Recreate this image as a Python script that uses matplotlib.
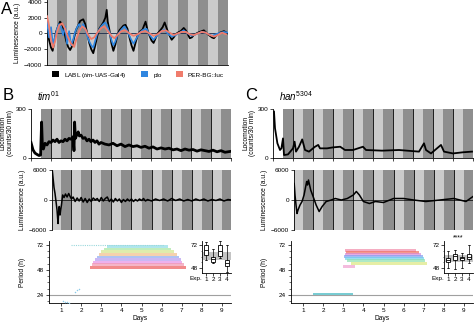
import matplotlib
matplotlib.use("Agg")
import matplotlib.pyplot as plt
from matplotlib.patches import Patch

plt.rcParams['font.family'] = ['Liberation Sans', 'DejaVu Sans']
plt.rcParams['mathtext.fontset'] = 'custom'
plt.rcParams['mathtext.rm'] = 'Liberation Sans'
plt.rcParams['mathtext.it'] = 'Liberation Sans:italic'
plt.rcParams['font.size'] = 4.6
plt.rcParams['axes.linewidth'] = 0.6
plt.rcParams['xtick.major.width'] = 0.5
plt.rcParams['ytick.major.width'] = 0.5
plt.rcParams['xtick.major.size'] = 2
plt.rcParams['ytick.major.size'] = 2
plt.rcParams['xtick.major.pad'] = 1.5
plt.rcParams['ytick.major.pad'] = 1.5

# ---------------- data (days, values) ----------------
# panel A: luminescence of three lines
a_labl_t = [0.5, 0.6, 0.7, 0.78, 0.85, 0.95, 1.05, 1.15, 1.25, 1.35, 1.45, 1.55, 1.65, 1.75, 1.85,
            1.95, 2.05, 2.15, 2.3, 2.4, 2.5, 2.6, 2.7, 2.8, 2.9, 3.0, 3.1, 3.2, 3.3, 3.4, 3.47, 3.52,
            3.6, 3.7, 3.8, 3.9, 4.0, 4.1, 4.2, 4.3, 4.4, 4.5, 4.6, 4.7, 4.8, 4.9, 5.0, 5.1, 5.25,
            5.4, 5.5, 5.6, 5.7, 5.8, 5.9, 6.0, 6.1, 6.25, 6.35, 6.5, 6.6, 6.7, 6.8, 6.9, 7.0, 7.15,
            7.3, 7.4, 7.5, 7.6, 7.7, 7.8, 8.0, 8.2, 8.3, 8.5, 8.7, 8.8, 8.9, 9.1, 9.3, 9.5]
a_labl_v = [500, -800, -1800, -2200, -1200, 200, 900, 1500, 1200, 300, -900, -1700, -2100, -1600, -500,
            500, 1000, 1600, 1800, 1200, 0, -1200, -2000, -2500, -1500, -300, 600, 1000, 1400, 2000, 3000, 1500,
            500, -1200, -2200, -1400, -200, 400, 700, 1000, 1100, 600, -500, -1500, -2200, -1200, -300, 200, 500,
            1500, 400, -300, -900, -1200, -600, 0, 300, 800, 1400, 300, -300, -800, -500, -100, 100, 300,
            700, 400, -100, -600, -500, -200, 100, 300, 400, -100, -500, -600, -300, 100, 300, 0]
a_plo_t = [0.5, 0.6, 0.7, 0.8, 0.9, 1.0, 1.1, 1.2, 1.3, 1.4, 1.5, 1.6, 1.7, 1.8, 1.9, 2.0, 2.1, 2.2, 2.3,
           2.4, 2.5, 2.6, 2.7, 2.8, 2.9, 3.0, 3.1, 3.2, 3.3, 3.4, 3.5, 3.6, 3.7, 3.8, 3.9, 4.0, 4.2, 4.35,
           4.5, 4.65, 4.8, 4.95, 5.1, 5.3, 5.45, 5.6, 5.8, 6.0, 6.2, 6.35, 6.5, 6.7, 6.9, 7.1, 7.3, 7.5,
           7.7, 7.9, 8.2, 8.4, 8.7, 9.0, 9.3, 9.5]
a_plo_v = [1500, -500, 800, -1500, -400, 600, 1200, 800, -200, 900, -1300, 300, -1500, -800, 200, 800, 1200,
           600, 1200, 600, -300, -1000, -1500, -1800, -900, 0, 500, 900, 1200, 1400, 900, 200, -800, -1500,
           -1000, -200, 500, 900, 300, -600, -1300, -600, 100, 500, 600, -200, -800, -200, 300, 500, 0,
           -400, -200, 100, 400, 0, -300, -100, 200, 100, -300, 0, 200, 100]
a_per_t = [0.5, 0.6, 0.7, 0.8, 0.9, 1.0, 1.1, 1.25, 1.4, 1.55, 1.7, 1.85, 1.95, 2.1, 2.25, 2.4, 2.55, 2.7,
           2.85, 3.0, 3.2, 3.35, 3.5, 3.7, 3.85, 4.0, 4.2, 4.4, 4.6, 4.8, 5.0, 5.2, 5.4, 5.6, 5.8, 6.0,
           6.2, 6.4, 6.6, 6.8, 7.0, 7.2, 7.4, 7.6, 7.8, 8.0, 8.2, 8.4, 8.6, 8.8, 9.0, 9.2, 9.4]
a_per_v = [2200, 1000, -800, -1800, -1000, 200, 1000, 1300, 600, -500, -1300, -1700, -800, 300, 900, 600,
           -200, -700, -500, 100, 700, 900, 400, -300, -600, -200, 300, 400, 0, -300, -100, 200, 300, 0,
           -300, -100, 300, 400, 100, -200, 0, 200, 200, -100, -200, 0, 200, 100, -200, -400, -200, 100, -100]
legend_labels = ['LABL ($\\mathit{tim}$-UAS-Gal4)', 'plo', 'PER-BG::luc']

# panel B (tim01) locomotion and luminescence
b_loc_t = [-0.5, -0.4, -0.3, -0.2, -0.1, -0.02, 0.03, 0.07, 0.12, 0.2, 0.3, 0.4, 0.5, 0.6, 0.7, 0.8, 0.9,
           1.0, 1.1, 1.2, 1.3, 1.4, 1.5, 1.6, 1.65, 1.68, 1.72, 1.8, 1.86, 1.92, 2.0, 2.1, 2.2, 2.3, 2.4,
           2.5, 2.6, 2.7, 2.8, 2.9, 3.0, 3.2, 3.4, 3.6, 3.8, 4.0, 4.2, 4.4, 4.6, 4.8, 5.0, 5.2, 5.4, 5.6,
           5.8, 6.0, 6.2, 6.4, 6.6, 6.8, 7.0, 7.2, 7.4, 7.6, 7.8, 8.0, 8.2, 8.4, 8.6, 8.8, 9.0, 9.2, 9.45]
b_loc_v = [95, 50, 30, 22, 15, 18, 220, 70, 55, 90, 80, 100, 95, 110, 100, 115, 95,
           105, 100, 115, 105, 120, 115, 130, 45, 220, 120, 145, 160, 135, 140, 120, 125, 105, 115,
           100, 110, 95, 105, 85, 95, 85, 80, 90, 75, 85, 70, 80, 70, 75, 65, 72, 60, 68,
           55, 62, 55, 60, 50, 55, 45, 55, 48, 52, 42, 50, 45, 40, 48, 38, 45, 35, 40]
b_lum_t = [0.55, 0.6, 0.65, 0.7, 0.75, 0.8, 0.85, 0.88, 0.91, 0.95, 0.98, 1.02, 1.08, 1.15, 1.22, 1.3,
           1.38, 1.45, 1.52, 1.6, 1.7, 1.8, 1.9, 2.0, 2.1, 2.2, 2.3, 2.4, 2.5, 2.6, 2.7, 2.8, 2.9, 3.0,
           3.1, 3.2, 3.3, 3.4, 3.5, 3.6, 3.7, 3.8, 3.9, 4.0, 4.1, 4.2, 4.3, 4.4, 4.5, 4.6, 4.7, 4.8,
           4.9, 5.0, 5.1, 5.2, 5.3, 5.5, 5.7, 5.9, 6.1, 6.3, 6.5, 6.7, 6.9, 7.1, 7.3, 7.5, 7.7, 7.9,
           8.1, 8.3, 8.5, 8.7, 8.9, 9.1, 9.3, 9.45]
b_lum_v = [6500, 4500, 2500, 1300, -300, -2000, -4700, -2500, -1300, -3000, -2000, -1000, 1000, 500, 1200,
           600, 1300, 700, 200, 600, -300, 400, -200, 500, -400, 300, -500, 200, -300, 400, 0, 300, -300,
           500, -200, 300, 600, -300, 200, -400, 300, -200, 200, -500, 100, -300, 200, -200, 200, -300,
           100, -200, 200, -100, 300, -200, 100, -200, 200, -100, 200, -200, 300, -100, 200, -200, 100,
           -200, 200, -100, 200, -200, 100, -100, 200, -200, 100, 0]

# panel C (han5304) locomotion and luminescence
c_loc_t = [-0.45, -0.4, -0.28, -0.15, -0.08, 0.0, 0.05, 0.25, 0.5, 0.58, 0.65, 0.8, 0.96, 1.1, 1.3, 1.6,
           1.76, 1.85, 2.2, 2.5, 2.86, 3.1, 3.5, 4.0, 4.15, 4.95, 5.8, 6.8, 7.05, 7.15, 7.4, 7.9, 8.05,
           8.5, 9.0, 9.45]
c_loc_v = [284, 182, 90, 49, 59, 120, 18, 22, 59, 100, 39, 69, 114, 49, 39, 69, 80, 59, 59, 65, 69, 49,
           49, 69, 49, 45, 49, 39, 90, 49, 28, 80, 39, 28, 35, 39]
c_lum_t = [0.56, 0.6, 0.65, 0.7, 0.75, 0.85, 0.95, 1.05, 1.18, 1.22, 1.27, 1.38, 1.5, 1.65, 1.8, 1.95,
           2.15, 2.4, 2.6, 2.9, 3.2, 3.5, 3.65, 3.8, 4.0, 4.3, 4.6, 5.0, 5.5, 6.0, 6.5, 7.1, 7.8, 8.5,
           9.1, 9.45]
c_lum_v = [3300, 1000, -1000, -2700, -2000, -1000, -300, 1000, 3700, 3000, 4000, 2000, 700, -1000, -2300,
           -1300, -300, 0, 300, 0, 300, 1000, 1700, 1000, -300, -700, -300, -500, 300, 300, 0, -300, 0,
           300, -300, 700]

# period clouds: centre period (h), first day, last day, colour
b_band_p = [70.5, 68, 65.5, 63, 60.5, 58, 55.5, 53, 50.5]
b_band_d0 = [3.3, 3.15, 3.0, 2.9, 2.8, 2.7, 2.6, 2.55, 2.45]
b_band_d1 = [6.3, 6.45, 6.6, 6.75, 6.85, 6.95, 7.0, 7.1, 7.2]
b_band_c = ['#8fdce6', '#a6e6a0', '#d2e68a', '#f2c08a', '#8eaaf0', '#b49af0', '#e690e6', '#f296b0', '#ec5a5a']
b_early_d = [1.1, 1.2, 1.3, 1.4, 1.7, 1.8, 1.9]
b_early_p = [18.5, 17.5, 16.8, 16.5, 26.5, 28.5, 30]
c_band_p = [67, 65, 63, 61, 59, 57, 54.5, 51]
c_band_d0 = [3.1, 3.15, 3.1, 3.05, 3.1, 3.2, 3.4, 3.0]
c_band_d1 = [6.6, 6.75, 6.85, 6.95, 7.0, 7.05, 7.15, 3.6]
c_band_c = ['#f28aa8', '#f07060', '#d88ad8', '#7ea0f0', '#70d0ec', '#8ce0b0', '#dce880', '#f0a0d0']

# insets: box statistics per experiment
exp_labels = ['1', '2', '3', '4']
b_whislo = [56, 53, 58.5, 44.5]
b_q1 = [61.5, 54.5, 61, 50.5]
b_med = [67, 57.5, 66, 53.5]
b_q3 = [72, 60, 72, 56]
b_whishi = [75, 68, 75.5, 72]
c_whislo = [47.7, 47, 47.7, 52.8]
c_q1 = [54, 56.6, 56, 57.6]
c_med = [56.6, 60.5, 58.5, 59.8]
c_q3 = [58.5, 62.4, 59.8, 62.4]
c_whishi = [65.6, 67, 64, 72]
b_ref = (56.6, 64.6)
c_ref = (54, 61.4)

DARK = '#8e8e8e'
LIGHT = '#cbcbcb'
W, H = 474, 322

fig = plt.figure(figsize=(W / 100, H / 100), dpi=100)


def box(l, r, t, b):
    return [l / W, 1 - b / H, (r - l) / W, (b - t) / H]


def stripes(ax, lines=True):
    for n in range(0, 10):
        ax.axvspan(n, n + 0.5, color=DARK, lw=0, zorder=0)
        ax.axvspan(n + 0.5, n + 1, color=LIGHT, lw=0, zorder=0)
        if lines:
            ax.axvline(n + 0.5, color='black', lw=0.6, zorder=1)


def clean(ax):
    ax.spines['top'].set_visible(False)
    ax.spines['right'].set_visible(False)


# ---------------- panel A ----------------
axA = fig.add_axes(box(47, 228, 0, 65))
stripes(axA, lines=False)
axA.axhline(0, color='#1a2a4a', lw=0.6, zorder=2)
axA.plot(a_labl_t, a_labl_v, color='black', lw=1.3, zorder=3)
axA.plot(a_plo_t, a_plo_v, color='#2f86e0', lw=1.2, zorder=4)
axA.plot(a_per_t, a_per_v, color='#f07c6c', lw=1.3, zorder=5)
axA.set_xlim(0.5, 9.5)
axA.set_ylim(-4000, 4250)
axA.set_yticks([-4000, -2000, 0, 2000, 4000])
axA.set_xticks([])
axA.set_ylabel('Luminescence (a.u.)', fontsize=4.8, labelpad=2)
clean(axA)
fig.text(1 / W, 1 - 9 / H, 'A', fontsize=12, va='center', ha='left')
handles = [Patch(facecolor='black'), Patch(facecolor='#2f86e0'), Patch(facecolor='#f07c6c')]
fig.legend(handles, legend_labels, loc='center', bbox_to_anchor=(138 / W, 1 - 75 / H), ncol=3,
           frameon=False, fontsize=4.6, handlelength=1.1, handleheight=1.1, handletextpad=0.8,
           columnspacing=2.2)


def column(dx, loc_t, loc_v, lum_t, lum_v, band_p, band_d0, band_d1, band_c,
           st, whislo, q1, med, q3, whishi, ref, letter, title, loc_lw):
    # locomotion
    ax1 = fig.add_axes(box(31 + dx, 231 + dx, 109, 158))
    stripes(ax1)
    ax1.plot(loc_t, loc_v, color='black', lw=loc_lw, zorder=3)
    ax1.set_xlim(-0.5, 9.45)
    ax1.set_ylim(0, 300)
    ax1.set_yticks([0, 300])
    ax1.set_xticks([n + 0.5 for n in range(-1, 10)])
    ax1.set_xticklabels([])
    clean(ax1)
    fig.text((7 + dx) / W, 1 - 133 / H, 'Locomotion\n(counts/30 min)', rotation=90,
             ha='center', va='center', fontsize=4.8, linespacing=1.0)
    fig.text((3 + dx) / W, 1 - 96 / H, letter, fontsize=12, va='center', ha='left')
    fig.text((37 + dx) / W, 1 - 96 / H, title, fontsize=7, va='center', ha='left')

    # luminescence
    ax2 = fig.add_axes(box(52 + dx, 231 + dx, 170, 230))
    stripes(ax2)
    ax2.axhline(0, color='black', lw=0.5, zorder=2)
    ax2.plot(lum_t, lum_v, color='black', lw=1.1, zorder=3)
    ax2.set_xlim(0.55, 9.45)
    ax2.set_ylim(-6000, 6000)
    ax2.set_yticks([-6000, 0, 6000])
    ax2.set_xticks([])
    clean(ax2)
    ax2.spines['bottom'].set_visible(False)
    fig.text((22 + dx) / W, 1 - 200 / H, 'Luminescence (a.u.)', rotation=90,
             ha='center', va='center', fontsize=4.8)

    # period
    ax3 = fig.add_axes(box(49 + dx, 231 + dx, 241, 303))
    ax3.axhline(24, color='#a0a0a0', lw=0.8, zorder=1)
    for p, d0, d1, c in zip(band_p, band_d0, band_d1, band_c):
        ax3.barh(p, d1 - d0, left=d0, height=2.6, color=c, alpha=0.7, lw=0, zorder=2)
    ax3.set_xlim(0.4, 9.45)
    ax3.set_ylim(16.3, 75.8)
    ax3.set_yticks([24, 48, 72])
    ax3.set_yticks(list(range(18, 76, 6)), minor=True)
    ax3.tick_params(axis='y', which='minor', length=1.2, width=0.4)
    ax3.set_xticks(range(1, 10))
    ax3.set_xlabel('Days', fontsize=4.8, labelpad=1.5)
    clean(ax3)
    fig.text((23 + dx) / W, 1 - 272 / H, 'Period (h)', rotation=90,
             ha='center', va='center', fontsize=4.8)
    st(ax3)

    # inset
    ax4 = fig.add_axes(box(202 + dx, 231 + dx, 241, 273))
    ax4.axhspan(ref[0], ref[1], color='#c4c4c4', lw=0, zorder=0)
    stats = [dict(whislo=a, q1=b, med=c, q3=d, whishi=e, fliers=[])
             for a, b, c, d, e in zip(whislo, q1, med, q3, whishi)]
    ax4.bxp(stats, positions=[1, 2, 3, 4], widths=0.5, patch_artist=True,
            boxprops=dict(facecolor='white', edgecolor='black', lw=0.6),
            medianprops=dict(color='black', lw=0.6),
            whiskerprops=dict(lw=0.5), capprops=dict(lw=0.5), capwidths=0.3)
    ax4.patch.set_alpha(0)
    ax4.set_xlim(0.4, 4.6)
    ax4.set_ylim(43, 76)
    ax4.set_yticks([48, 72])
    ax4.set_yticks(list(range(48, 76, 6)), minor=True)
    ax4.tick_params(axis='y', which='minor', length=1.0, width=0.4)
    ax4.set_xticks([1, 2, 3, 4])
    ax4.set_xticklabels(exp_labels, fontsize=4.6)
    ax4.tick_params(axis='both', labelsize=4.6, pad=1)
    clean(ax4)
    ax4.text(0.0, -0.1, 'Exp.', transform=ax4.transAxes, ha='right', va='top', fontsize=4.6)
    return ax4


def b_extra(ax):
    ax.plot([1.5, 6.1], [72, 72], color='#9ad8dc', lw=0.8, ls=(0, (1, 1)), zorder=2)
    ax.scatter(b_early_d, b_early_p, s=1.2, color='#8ccbe8', lw=0, zorder=3)


def c_extra(ax):
    ax.barh(25, 2.0, left=1.5, height=1.4, color='#58c0c8', alpha=0.8, lw=0, zorder=2)


column(0, b_loc_t, b_loc_v, b_lum_t, b_lum_v, b_band_p, b_band_d0, b_band_d1, b_band_c,
       b_extra, b_whislo, b_q1, b_med, b_q3, b_whishi, b_ref, 'B', r'$\mathit{tim}^{01}$', 2.0)
ax4c = column(242, c_loc_t, c_loc_v, c_lum_t, c_lum_v, c_band_p, c_band_d0, c_band_d1, c_band_c,
              c_extra, c_whislo, c_q1, c_med, c_q3, c_whishi, c_ref, 'C', r'$\mathit{han}^{5304}$', 1.3)
ax4c.text(2.5, 76, '****', ha='center', va='bottom', fontsize=5)

fig.savefig('out.png', dpi=100)
